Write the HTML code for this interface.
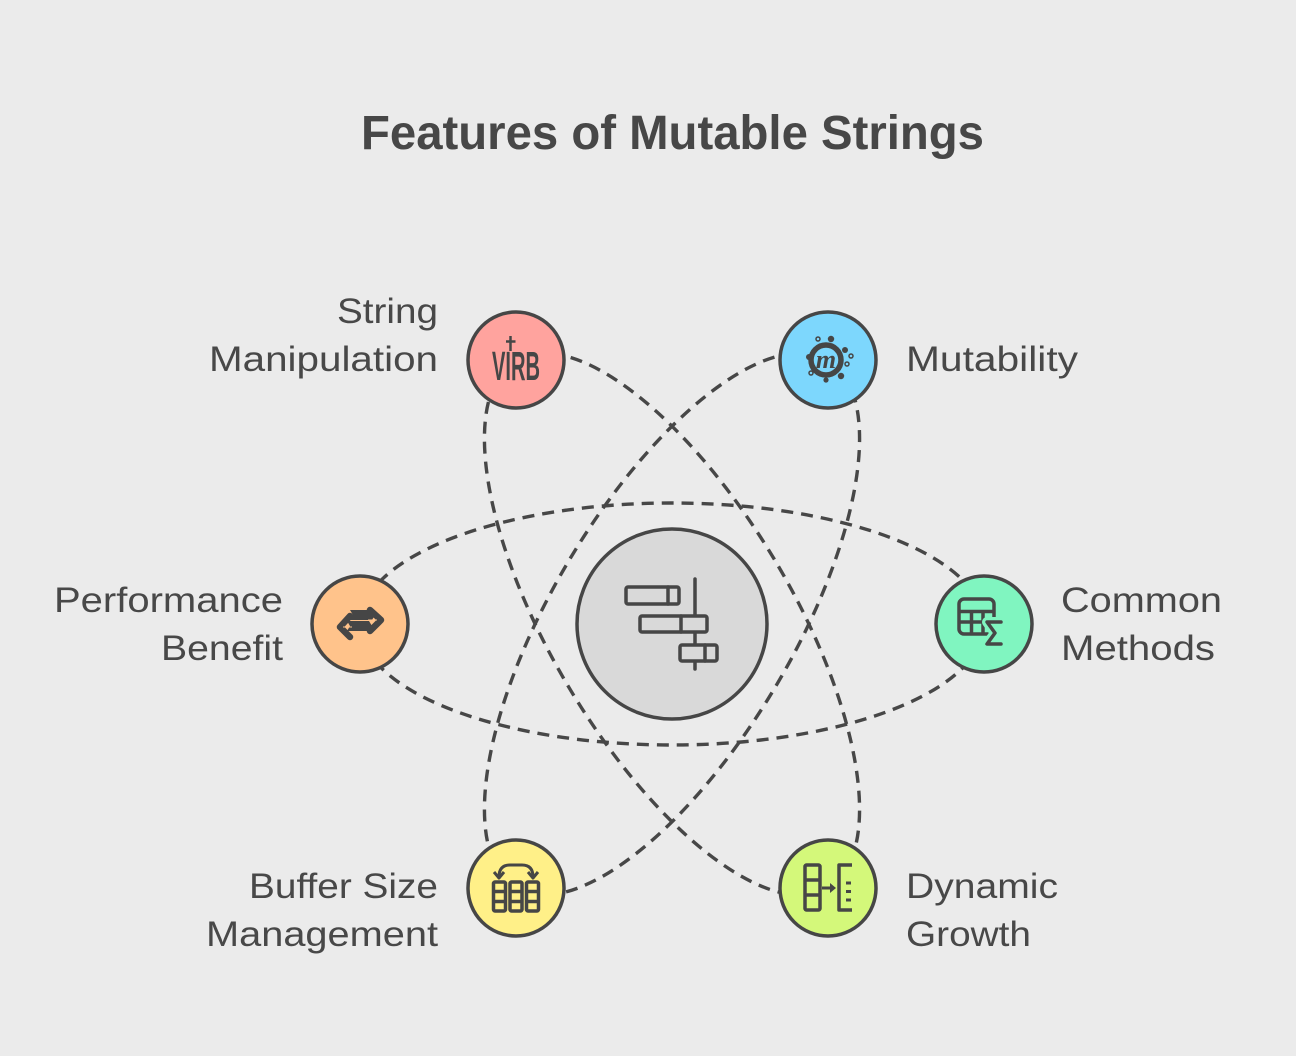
<!DOCTYPE html>
<html>
<head>
<meta charset="utf-8">
<style>
  html, body { margin: 0; padding: 0; background: #ebebeb; }
  svg { display: block; }
  .lbl { font-family: "Liberation Sans", sans-serif; font-size: 35px; fill: #484848; }
  .ttl { font-family: "Liberation Sans", sans-serif; font-size: 48px; font-weight: bold; fill: #474747; }
</style>
</head>
<body>
<svg width="1296" height="1056" viewBox="0 0 1296 1056" xmlns="http://www.w3.org/2000/svg">
  <rect x="0" y="0" width="1296" height="1056" fill="#ebebeb"/>

  <!-- Title -->
  <text class="ttl" x="672.5" y="149" text-anchor="middle" textLength="623" lengthAdjust="spacingAndGlyphs">Features of Mutable Strings</text>

  <!-- Dashed orbit ellipses -->
  <g fill="none" stroke="#474747" stroke-width="3.4" stroke-dasharray="12 8">
    <ellipse cx="672" cy="624" rx="312" ry="121"/>
    <ellipse cx="672" cy="624" rx="306.6" ry="121" transform="rotate(59.42 672 624)"/>
    <ellipse cx="672" cy="624" rx="306.6" ry="121" transform="rotate(-59.42 672 624)"/>
  </g>

  <!-- Center node -->
  <circle cx="672" cy="624" r="95" fill="#d9d9d9" stroke="#464646" stroke-width="3.5"/>
  <g stroke="#464646" stroke-width="3.5" fill="#d9d9d9" stroke-linecap="round">
    <line x1="695" y1="579" x2="695" y2="669"/>
    <rect x="626" y="587" width="53" height="17" rx="2"/>
    <line x1="668" y1="587" x2="668" y2="604"/>
    <rect x="640" y="616" width="67" height="16" rx="2"/>
    <line x1="681" y1="616" x2="681" y2="632"/>
    <rect x="680" y="645" width="37" height="16" rx="2"/>
    <line x1="705" y1="645" x2="705" y2="661"/>
  </g>

  <!-- Node circles -->
  <g stroke="#464646" stroke-width="3.5">
    <circle cx="516" cy="360" r="48" fill="#ffa39e"/>
    <circle cx="828" cy="360" r="48" fill="#7dd7fd"/>
    <circle cx="360" cy="624" r="48" fill="#ffc38b"/>
    <circle cx="984" cy="624" r="48" fill="#80f5c0"/>
    <circle cx="516" cy="888" r="48" fill="#fff088"/>
    <circle cx="828" cy="888" r="48" fill="#d4f87a"/>
  </g>

  <!-- VIRB icon -->
  <g fill="#464646">
    <text x="516" y="380" text-anchor="middle" font-family="Liberation Sans, sans-serif" font-weight="bold" font-size="41" textLength="48" lengthAdjust="spacingAndGlyphs">VIRB</text>
  </g>
  <g stroke="#464646" stroke-width="2.5">
    <line x1="510.5" y1="336" x2="510.5" y2="351"/>
    <line x1="506" y1="341.5" x2="515.5" y2="341.5"/>
  </g>

  <!-- Mutability icon -->
  <g>
    <circle cx="826" cy="360" r="15" fill="none" stroke="#464646" stroke-width="5.5"/>
    <text x="826" y="368" text-anchor="middle" font-family="Liberation Serif, serif" font-style="italic" font-weight="bold" font-size="26" fill="#464646">m</text>
    <g fill="#464646">
      <circle cx="831" cy="339" r="3.2"/>
      <circle cx="845" cy="350" r="3"/>
      <circle cx="809" cy="357" r="3"/>
      <circle cx="841" cy="376" r="3.2"/>
      <circle cx="826" cy="380" r="2.6"/>
    </g>
    <g fill="none" stroke="#464646" stroke-width="1.5">
      <circle cx="818" cy="339" r="2"/>
      <circle cx="851" cy="356" r="2"/>
      <circle cx="811" cy="373" r="2"/>
      <circle cx="847" cy="364" r="2"/>
    </g>
  </g>

  <!-- Performance icon -->
  <g stroke="#464646" stroke-linejoin="round" stroke-linecap="round" fill="none">
    <polyline points="350,616 340,627 350,637" stroke-width="6.5"/>
    <polyline points="370,610 381,620 370,631" stroke-width="6.5"/>
  </g>
  <g fill="#464646">
    <polygon points="350,610 372,610 375,615 372,620 350,620 353,615"/>
    <polygon points="347,621 369,621 372,626 369,631 347,631 350,626"/>
  </g>
  <g stroke="#ffc38b" stroke-width="1">
    <line x1="343" y1="627" x2="352" y2="627"/>
    <line x1="368" y1="620" x2="377" y2="620"/>
  </g>

  <!-- Common Methods icon -->
  <g fill="none" stroke="#464646" stroke-width="3.5">
    <rect x="959" y="599" width="35" height="35" rx="5"/>
    <line x1="959" y1="611.5" x2="994" y2="611.5"/>
    <line x1="959" y1="622" x2="994" y2="622"/>
    <line x1="971.5" y1="611.5" x2="971.5" y2="634"/>
    <line x1="983" y1="611.5" x2="983" y2="634"/>
  </g>
  <path d="M1001 622 H987 L995 633 L987 644 H1001" fill="none" stroke="#80f5c0" stroke-width="10" stroke-linejoin="round"/>
  <path d="M1001 622 H987 L995 633 L987 644 H1001" fill="none" stroke="#464646" stroke-width="3.5" stroke-linejoin="round" stroke-linecap="round"/>

  <!-- Buffer Size icon -->
  <g fill="none" stroke="#464646" stroke-width="3.5">
    <rect x="493.5" y="882" width="12" height="29" rx="1.5"/>
    <rect x="510" y="882" width="12" height="29" rx="1.5"/>
    <rect x="526.5" y="882" width="12" height="29" rx="1.5"/>
    <line x1="493.5" y1="891.5" x2="505.5" y2="891.5"/>
    <line x1="493.5" y1="901.5" x2="505.5" y2="901.5"/>
    <line x1="510" y1="891.5" x2="522" y2="891.5"/>
    <line x1="510" y1="901.5" x2="522" y2="901.5"/>
    <line x1="526.5" y1="891.5" x2="538.5" y2="891.5"/>
    <line x1="526.5" y1="901.5" x2="538.5" y2="901.5"/>
    <path d="M499 877 Q499 865 510 865 H522 Q533 865 533 877" stroke-width="3"/>
    <polyline points="494,872 499,878 504,872" stroke-width="3" stroke-linejoin="round"/>
    <polyline points="528,872 533,878 538,872" stroke-width="3" stroke-linejoin="round"/>
  </g>

  <!-- Dynamic Growth icon -->
  <g fill="none" stroke="#464646" stroke-width="3.5">
    <rect x="805" y="865" width="15" height="45" rx="1.5"/>
    <line x1="805" y1="880" x2="820" y2="880"/>
    <line x1="805" y1="895" x2="820" y2="895"/>
    <line x1="822" y1="888" x2="832" y2="888" stroke-width="3"/>
    <path d="M852 865 H839 V910 H852" stroke-linejoin="round"/>
    <line x1="846" y1="883" x2="851" y2="883" stroke-width="3"/>
    <line x1="846" y1="891.5" x2="851" y2="891.5" stroke-width="3"/>
    <line x1="846" y1="900" x2="851" y2="900" stroke-width="3"/>
  </g>
  <polygon points="830,883 836,888 830,893" fill="#464646"/>

  <!-- Labels -->
  <text class="lbl" x="438" y="323" text-anchor="end" textLength="101" lengthAdjust="spacingAndGlyphs">String</text>
  <text class="lbl" x="438" y="371" text-anchor="end" textLength="229" lengthAdjust="spacingAndGlyphs">Manipulation</text>

  <text class="lbl" x="906" y="371" textLength="172" lengthAdjust="spacingAndGlyphs">Mutability</text>

  <text class="lbl" x="283" y="612" text-anchor="end" textLength="229" lengthAdjust="spacingAndGlyphs">Performance</text>
  <text class="lbl" x="283" y="660" text-anchor="end" textLength="122" lengthAdjust="spacingAndGlyphs">Benefit</text>

  <text class="lbl" x="1061" y="612" textLength="161" lengthAdjust="spacingAndGlyphs">Common</text>
  <text class="lbl" x="1061" y="660" textLength="154" lengthAdjust="spacingAndGlyphs">Methods</text>

  <text class="lbl" x="438" y="898" text-anchor="end" textLength="189" lengthAdjust="spacingAndGlyphs">Buffer Size</text>
  <text class="lbl" x="438" y="946" text-anchor="end" textLength="232" lengthAdjust="spacingAndGlyphs">Management</text>

  <text class="lbl" x="906" y="898" textLength="152" lengthAdjust="spacingAndGlyphs">Dynamic</text>
  <text class="lbl" x="906" y="946" textLength="125" lengthAdjust="spacingAndGlyphs">Growth</text>
</svg>
</body>
</html>
